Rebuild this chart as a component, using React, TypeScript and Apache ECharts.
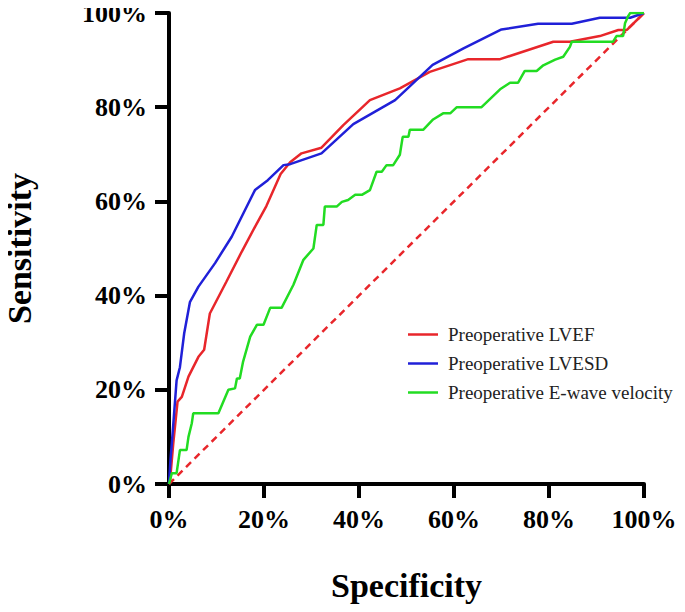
import React, { useEffect, useRef } from "react";
import * as echarts from "echarts";

// ROC curves: x = specificity axis (%), y = sensitivity (%)
const lvefX = [0, 0.2, 0.9, 1.8, 2.7, 4.1, 6.2, 7.4, 8.6, 12.1, 15.3, 18.1, 20.5, 23.5, 25.5, 27.9, 32.1, 36.7, 42.3, 48.6, 54.9, 63.0, 69.7, 80.9, 84.4, 90.7, 94.6, 96.4, 100];
const lvefY = [0, 0.5, 8.6, 17.5, 18.5, 22.8, 27.0, 28.5, 36.2, 43.0, 49.3, 54.6, 59.0, 65.8, 68.3, 70.2, 71.4, 76.2, 81.5, 84.0, 87.5, 90.2, 90.2, 93.9, 93.9, 95.1, 96.4, 96.4, 100];

const lvesdX = [0, 0.3, 0.6, 1.0, 1.6, 2.3, 3.2, 4.4, 6.2, 9.7, 13.2, 18.1, 20.8, 24.1, 25.5, 32.1, 38.8, 47.6, 55.5, 62.0, 70.0, 77.7, 84.8, 90.7, 97.1, 100];
const lvesdY = [0, 5.0, 8.7, 14.0, 22.0, 24.8, 32.0, 38.6, 41.9, 46.9, 52.5, 62.4, 64.5, 67.7, 67.9, 70.2, 76.4, 81.5, 89.0, 92.5, 96.5, 97.7, 97.7, 99.0, 99.0, 100];

const ewaveX = [0, 0.6, 1.6, 2.3, 3.7, 4.1, 4.8, 5.1, 10.4, 12.5, 13.9, 14.3, 14.9, 15.6, 17.1, 18.5, 19.9, 21.3, 23.7, 26.2, 28.3, 30.4, 31.1, 32.5, 32.8, 35.3, 36.4, 37.7, 39.2, 40.6, 42.3, 43.7, 44.8, 45.8, 47.2, 48.6, 49.2, 50.4, 50.7, 53.5, 55.6, 57.7, 59.2, 60.6, 65.8, 69.7, 71.8, 73.5, 74.9, 77.4, 78.8, 81.3, 83.0, 84.4, 84.8, 93.5, 94.2, 95.6, 96.0, 96.7, 97.1, 100];
const ewaveY = [0, 2.3, 2.3, 7.2, 7.2, 10.0, 12.9, 15.0, 15.0, 20.0, 20.3, 22.4, 22.4, 26.0, 31.3, 33.8, 33.8, 37.4, 37.4, 42.3, 47.6, 50.0, 55.0, 55.0, 58.9, 58.9, 59.9, 60.3, 61.4, 61.4, 62.4, 66.3, 66.3, 67.7, 67.7, 69.9, 73.7, 73.7, 75.2, 75.2, 77.4, 78.7, 78.7, 80.0, 80.0, 83.8, 85.2, 85.2, 87.7, 87.7, 88.9, 90.1, 90.7, 92.8, 93.9, 93.9, 95.1, 95.1, 97.8, 99.4, 100, 100];

// chance diagonal
const refX = [0, 100];
const refY = [0, 100];

const seriesNames = ["Preoperative LVEF", "Preoperative LVESD", "Preoperative E-wave velocity"];
const seriesColors = ["#e8262b", "#2020d8", "#22dc22"];

const zip = (xs: number[], ys: number[]) => xs.map((x, i) => [x, ys[i]]);

const SERIF = "Liberation Serif";

export default function App() {
  const ref = useRef<HTMLDivElement>(null);

  useEffect(() => {
    if (!ref.current) return;
    const chart = echarts.init(ref.current, null, { renderer: "svg" });

    const axisCommon = {
      type: "value" as const,
      min: 0,
      max: 100,
      interval: 20,
      splitLine: { show: false },
      axisLine: { show: true, lineStyle: { color: "#000", width: 4 } },
      axisTick: { show: true, length: 14, lineStyle: { color: "#000", width: 4 } },
      axisLabel: {
        formatter: "{value}%",
        color: "#000",
        fontFamily: SERIF,
        fontWeight: "bold" as const,
        fontSize: 26,
      },
      nameLocation: "middle" as const,
      nameTextStyle: {
        color: "#000",
        fontFamily: SERIF,
        fontWeight: "bold" as const,
        fontSize: 34,
      },
    };

    const curves = [zip(lvefX, lvefY), zip(lvesdX, lvesdY), zip(ewaveX, ewaveY)];

    chart.setOption({
      animation: false,
      backgroundColor: "#fff",
      grid: { left: 169, right: 41, top: 13, bottom: 128, containLabel: false, outerBoundsMode: "none" },
      xAxis: {
        ...axisCommon,
        name: "Specificity",
        nameGap: 84,
        axisLabel: { ...axisCommon.axisLabel, margin: 22 },
      },
      yAxis: {
        ...axisCommon,
        name: "Sensitivity",
        nameGap: 133,
        axisLabel: { ...axisCommon.axisLabel, margin: 22 },
      },
      legend: {
        data: seriesNames,
        orient: "vertical",
        left: 403,
        top: 320,
        icon: "rect",
        itemWidth: 30,
        itemHeight: 2.5,
        itemGap: 10,
        textStyle: {
          fontFamily: SERIF,
          fontSize: 19,
          color: "#222",
          padding: [0, 0, 0, 5],
        },
      },
      series: [
        {
          name: "Reference",
          type: "line",
          data: zip(refX, refY),
          symbol: "none",
          lineStyle: { color: seriesColors[0], width: 2.5, type: [7, 5] },
          silent: true,
        },
        ...curves.map((d, i) => ({
          name: seriesNames[i],
          type: "line",
          data: d,
          symbol: "none",
          color: seriesColors[i],
          lineStyle: { color: seriesColors[i], width: 2.5 },
        })),
      ],
    });

    return () => chart.dispose();
  }, []);

  return <div ref={ref} style={{ width: 685, height: 612, marginLeft: -8, marginTop: -8 }} />;
}
